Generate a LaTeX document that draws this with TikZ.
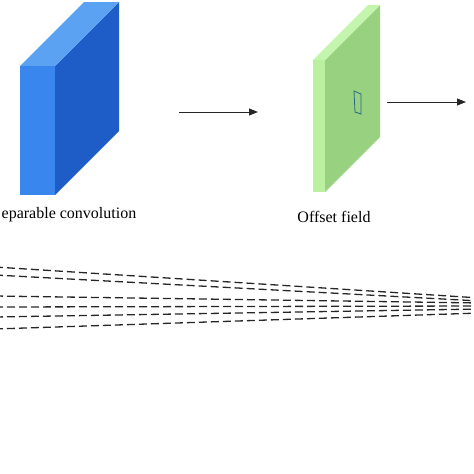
\documentclass[tikz,border=0pt]{standalone}
\usepackage{fontspec}
\setmainfont{Liberation Serif}
\usetikzlibrary{arrows.meta}
\definecolor{bfront}{RGB}{56,134,238}
\definecolor{bside}{RGB}{30,92,200}
\definecolor{btop}{RGB}{92,162,242}
\definecolor{gfront}{RGB}{186,240,160}
\definecolor{gside}{RGB}{152,209,128}
\definecolor{gtop}{RGB}{196,245,172}
\definecolor{cellc}{RGB}{40,105,135}
\tikzset{
  flow/.style={line width=1pt, black!85, -{Triangle[length=9pt,width=7pt]}},
  guide/.style={line width=1.3pt, black!85, dash pattern=on 8pt off 4pt},
  caption/.style={font=\fontsize{16}{18}\selectfont, inner sep=0pt, anchor=base}
}
\begin{document}
\begin{tikzpicture}[x=1pt,y=-1pt]
\useasboundingbox (0,0) rectangle (474,474);
\clip (0,0) rectangle (474,474);
% blue block
\fill[bside] (55,66) -- (55,195) -- (119,131) -- (119,2) -- cycle;
\fill[btop] (20,66) -- (55,66) -- (119,2) -- (84,2) -- cycle;
\fill[bfront] (20,66) rectangle (55,195);
% green plate
\fill[gside] (325,60) -- (325,192) -- (380,137) -- (380,5) -- cycle;
\fill[gtop] (313,60) -- (325,60) -- (380,5) -- (368,5) -- cycle;
\fill[gfront] (313,60) rectangle (325,192);
\draw[cellc, line width=0.8pt] (354,91) -- (361,94) -- (361,114) -- (355,112) -- cycle;
% labels
\node[caption] (lblA) at (69,218) {eparable convolution};
\node[caption] (lblB) at (334,222) {Offset field};
% arrows
\coordinate (a1s) at (179,112);
\coordinate (a1e) at (258,112);
\coordinate (a2s) at (387,102);
\coordinate (a2e) at (466,102);
\draw[flow] (a1s) -- (a1e);
\draw[flow] (a2s) -- (a2e);
% dashed guide lines
\coordinate (l1a) at (-5,267);  \coordinate (l1b) at (480,298);
\coordinate (l2a) at (-5,275);  \coordinate (l2b) at (480,301);
\coordinate (l3a) at (-5,296);  \coordinate (l3b) at (480,303);
\coordinate (l4a) at (-5,307);  \coordinate (l4b) at (480,306);
\coordinate (l5a) at (-5,317);  \coordinate (l5b) at (480,309);
\coordinate (l6a) at (-5,329);  \coordinate (l6b) at (480,313);
\draw[guide] (l1a) -- (l1b);
\draw[guide] (l2a) -- (l2b);
\draw[guide] (l3a) -- (l3b);
\draw[guide] (l4a) -- (l4b);
\draw[guide] (l5a) -- (l5b);
\draw[guide] (l6a) -- (l6b);
\end{tikzpicture}
\end{document}
